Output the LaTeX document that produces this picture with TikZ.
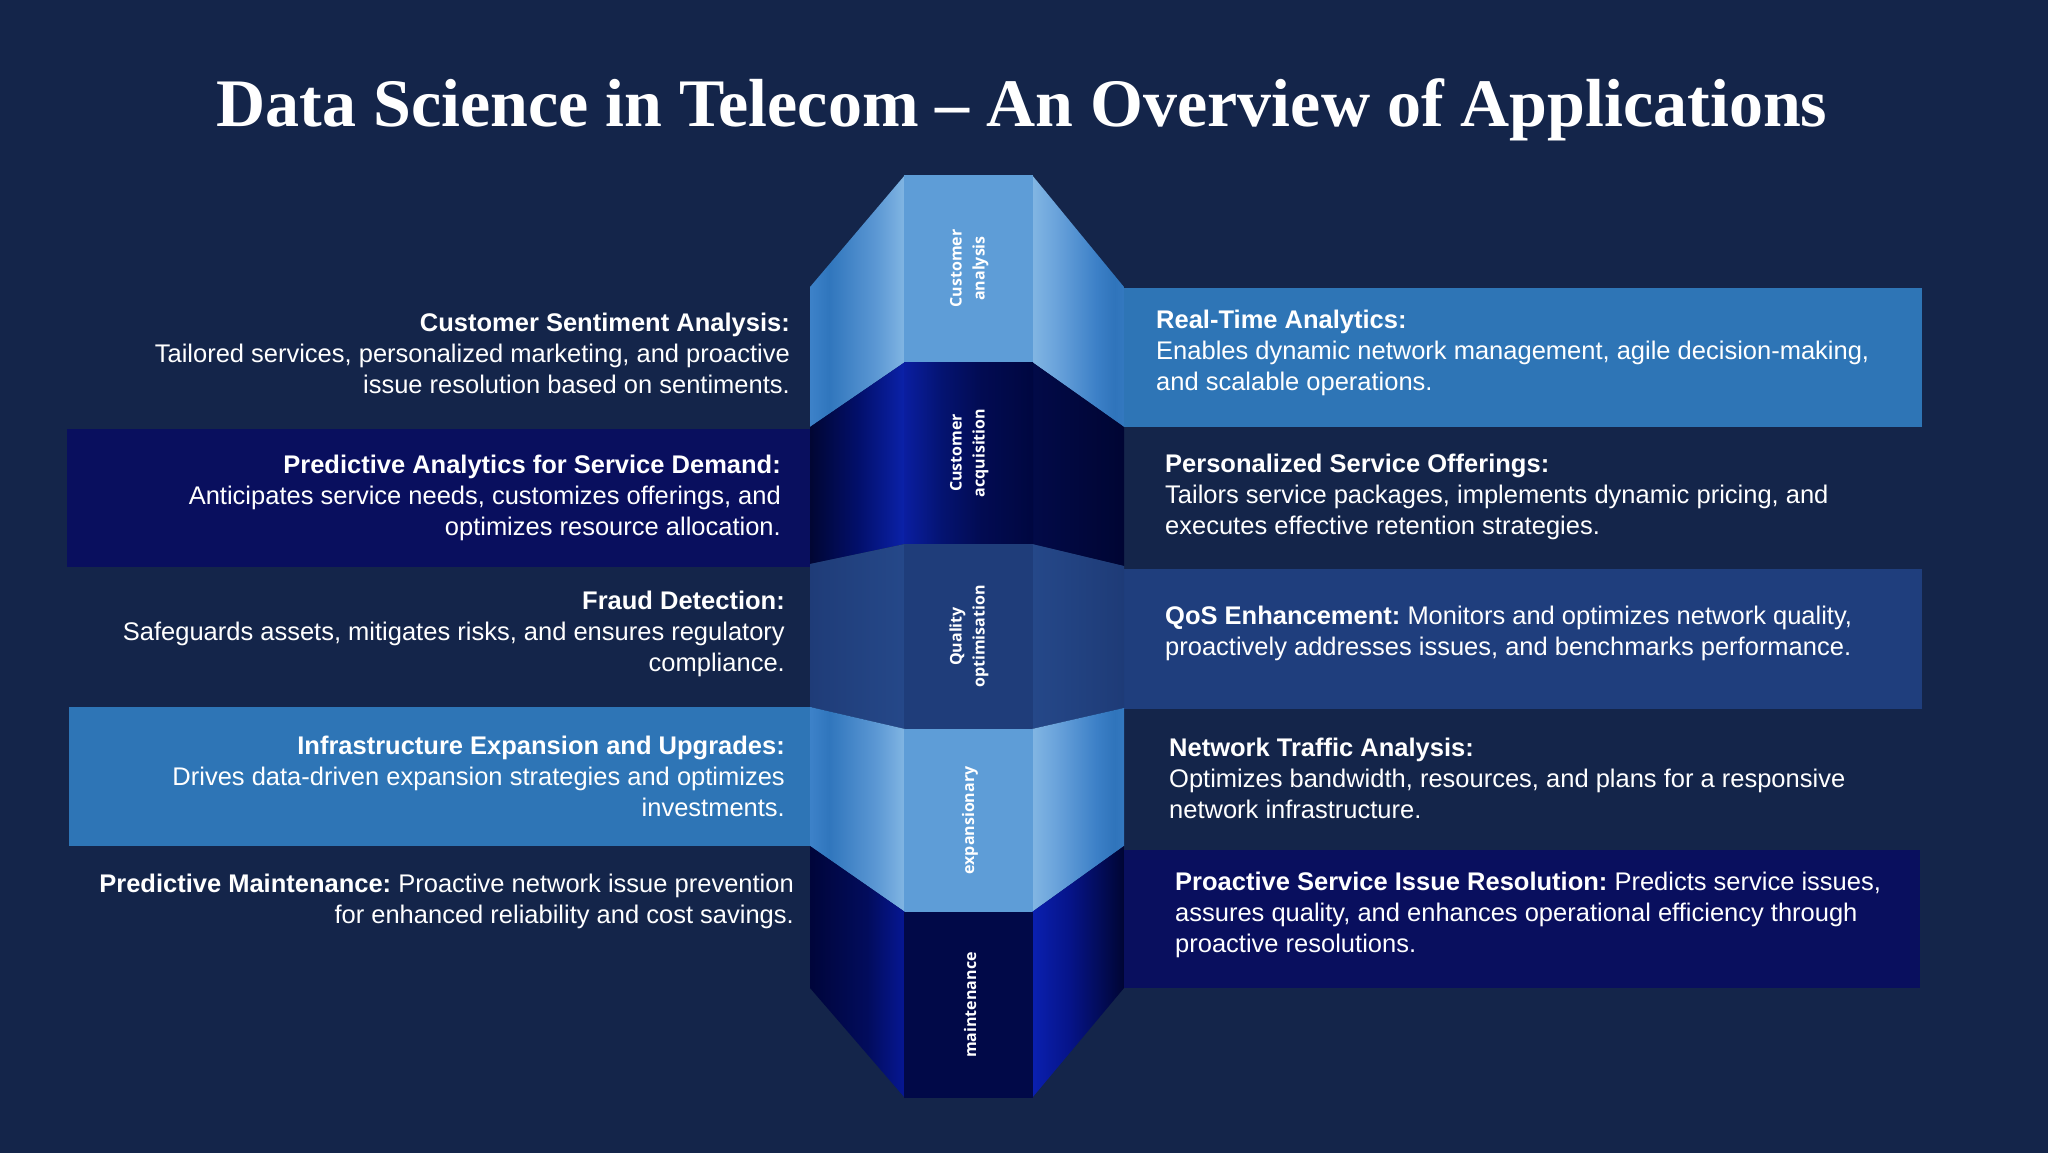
\documentclass[tikz,border=0pt]{standalone}
\usepackage{fontspec}
\setmainfont{Liberation Sans}
\newfontfamily\titlefont{Liberation Serif}
\newfontfamily\labelfont{Open Sans}
\frenchspacing
\definecolor{bgc}{HTML}{14254A}
\definecolor{bandlight}{HTML}{2E75B6}
\definecolor{banddark}{HTML}{090F5E}
\definecolor{bandmid}{HTML}{1F3E7D}
\definecolor{facelight}{HTML}{5E9DD7}
\definecolor{facedark}{HTML}{010948}
\definecolor{facemid}{HTML}{1F3D7A}
% shading stop colours
\definecolor{lA}{HTML}{3D82C9}
\definecolor{lB}{HTML}{3076BD}
\definecolor{lC}{HTML}{5C98D4}
\definecolor{lD}{HTML}{82B6E3}
\definecolor{lE}{HTML}{6AA3DB}
\definecolor{lF}{HTML}{3C80C7}
\definecolor{lG}{HTML}{2F74BB}
\definecolor{lH}{HTML}{3479C0}
\definecolor{dA}{HTML}{010633}
\definecolor{dB}{HTML}{020F6A}
\definecolor{dC}{HTML}{0B22AA}
\definecolor{dD}{HTML}{0A1EA0}
\definecolor{dE}{HTML}{041370}
\definecolor{dF}{HTML}{020B52}
\definecolor{dG}{HTML}{000740}
\definecolor{dH}{HTML}{020A48}
\definecolor{dI}{HTML}{000533}
\definecolor{dJ}{HTML}{00053A}
\definecolor{dK}{HTML}{020C5C}
\definecolor{dL}{HTML}{061794}
\definecolor{dM}{HTML}{0A20B0}
\definecolor{dN}{HTML}{06148A}
\definecolor{mA}{HTML}{1F3C78}
\definecolor{mB}{HTML}{254889}
\definecolor{mC}{HTML}{1E3B77}
\pgfdeclarehorizontalshading{lightL}{100bp}{color(0bp)=(lA); color(25bp)=(lA); color(35bp)=(lB); color(60bp)=(lC); color(75bp)=(lD); color(100bp)=(lD)}
\pgfdeclarehorizontalshading{lightR}{100bp}{color(0bp)=(lD); color(25bp)=(lD); color(38bp)=(lE); color(60bp)=(lF); color(70bp)=(lG); color(75bp)=(lH); color(100bp)=(lH)}
\pgfdeclarehorizontalshading{darkLa}{100bp}{color(0bp)=(dA); color(25bp)=(dA); color(50bp)=(dB); color(75bp)=(dC); color(100bp)=(dC)}
\pgfdeclarehorizontalshading{darkFa}{100bp}{color(0bp)=(dD); color(25bp)=(dD); color(40bp)=(dE); color(55bp)=(dF); color(75bp)=(dG); color(100bp)=(dG)}
\pgfdeclarehorizontalshading{darkRa}{100bp}{color(0bp)=(dH); color(25bp)=(dH); color(75bp)=(dI); color(100bp)=(dI)}
\pgfdeclarehorizontalshading{darkLb}{100bp}{color(0bp)=(dJ); color(25bp)=(dJ); color(55bp)=(dK); color(75bp)=(dL); color(100bp)=(dL)}
\pgfdeclarehorizontalshading{darkRb}{100bp}{color(0bp)=(dM); color(25bp)=(dM); color(45bp)=(dN); color(75bp)=(dI); color(100bp)=(dI)}
\pgfdeclarehorizontalshading{midL}{100bp}{color(0bp)=(mA); color(25bp)=(mA); color(75bp)=(mB); color(100bp)=(mB)}
\pgfdeclarehorizontalshading{midR}{100bp}{color(0bp)=(mB); color(25bp)=(mB); color(75bp)=(mC); color(100bp)=(mC)}
\newcommand\txtsize{\fontsize{25.5}{31}\selectfont}
\tikzset{
  lefttxt/.style={anchor=base east, inner sep=0pt, text=white, font=\txtsize},
  righttxt/.style={anchor=base west, inner sep=0pt, text=white, font=\txtsize},
  collabel/.style={rotate=90, inner sep=0pt, text=white, font=\labelfont\bfseries\fontsize{16}{23}\selectfont}
}
\begin{document}
\begin{tikzpicture}[x=1pt,y=-1pt]
\useasboundingbox (0,0) rectangle (2048,1152);
\fill[bgc] (-6,-6) rectangle (2054,1158);
% bands
\fill[bandlight] (1122,288) rectangle (1922,427);
\fill[banddark] (67,429) rectangle (812,567);
\fill[bandmid] (1122,569) rectangle (1922,709);
\fill[bandlight] (69,707) rectangle (812,846);
\fill[banddark] (1122,850) rectangle (1920,988);
% column segment 1
\shade[shading=lightL] (810,287) -- (905,175) -- (905,362) -- (810,427) -- cycle;
\shade[shading=lightR] (1032,175) -- (1124,287) -- (1124,427) -- (1032,362) -- cycle;
\fill[facelight] (904,175) rectangle (1033,362);
% segment 2
\shade[shading=darkLa] (810,427) -- (905,362) -- (905,544) -- (810,564) -- cycle;
\shade[shading=darkRa] (1032,362) -- (1124,427) -- (1124,566) -- (1032,544) -- cycle;
\shade[shading=darkFa] (904,362) rectangle (1033,544);
% segment 3
\shade[shading=midL] (810,564) -- (905,544) -- (905,729) -- (810,707) -- cycle;
\shade[shading=midR] (1032,544) -- (1124,566) -- (1124,708) -- (1032,729) -- cycle;
\fill[facemid] (904,544) rectangle (1033,729);
% segment 4
\shade[shading=lightL] (810,707) -- (905,729) -- (905,912) -- (810,846) -- cycle;
\shade[shading=lightR] (1032,729) -- (1124,708) -- (1124,846) -- (1032,912) -- cycle;
\fill[facelight] (904,729) rectangle (1033,912);
% segment 5
\shade[shading=darkLb] (810,846) -- (905,912) -- (905,1098) -- (810,988) -- cycle;
\shade[shading=darkRb] (1032,912) -- (1124,846) -- (1124,988) -- (1032,1098) -- cycle;
\fill[facedark] (904,912) rectangle (1033,1098);
% column labels
\node[collabel] (c1) at (968.5,268.5) {\begin{tabular}{@{}c@{}}Customer\\ analysis\end{tabular}};
\node[collabel] (c2) at (968.5,453) {\begin{tabular}{@{}c@{}}Customer\\ acquisition\end{tabular}};
\node[collabel] (c3) at (968.5,636.5) {\begin{tabular}{@{}c@{}}Quality\\ optimisation\end{tabular}};
\node[collabel] (c4) at (970,820.5) {expansionary};
\node[collabel] (c5) at (970,1005) {maintenance};
% title
\node[anchor=base, inner sep=0pt, text=white, font=\titlefont\bfseries\fontsize{68}{80}\selectfont] (title) at (1022,126) {Data Science in Telecom – An Overview of Applications};
% left texts
\node[lefttxt] (l1) at (790,331) {\begin{tabular}[t]{@{}r@{}}\textbf{Customer Sentiment Analysis:}\\ Tailored services, personalized marketing, and proactive\\ issue resolution based on sentiments.\end{tabular}};
\node[lefttxt] (l2) at (781,473) {\begin{tabular}[t]{@{}r@{}}\textbf{Predictive Analytics for Service Demand:}\\ Anticipates service needs, customizes offerings, and\\ optimizes resource allocation.\end{tabular}};
\node[lefttxt] (l3) at (785,609) {\begin{tabular}[t]{@{}r@{}}\textbf{Fraud Detection:}\\ Safeguards assets, mitigates risks, and ensures regulatory\\ compliance.\end{tabular}};
\node[lefttxt] (l4) at (785,754) {\begin{tabular}[t]{@{}r@{}}\textbf{Infrastructure Expansion and Upgrades:}\\ Drives data-driven expansion strategies and optimizes\\ investments.\end{tabular}};
\node[lefttxt] (l5) at (794,892) {\begin{tabular}[t]{@{}r@{}}\textbf{Predictive Maintenance:} Proactive network issue prevention\\ for enhanced reliability and cost savings.\end{tabular}};
% right texts
\node[righttxt] (r1) at (1156,328) {\begin{tabular}[t]{@{}l@{}}\textbf{Real-Time Analytics:}\\ Enables dynamic network management, agile decision-making,\\ and scalable operations.\end{tabular}};
\node[righttxt] (r2) at (1165,472) {\begin{tabular}[t]{@{}l@{}}\textbf{Personalized Service Offerings:}\\ Tailors service packages, implements dynamic pricing, and\\ executes effective retention strategies.\end{tabular}};
\node[righttxt] (r3) at (1165,624) {\begin{tabular}[t]{@{}l@{}}\textbf{QoS Enhancement:} Monitors and optimizes network quality,\\ proactively addresses issues, and benchmarks performance.\end{tabular}};
\node[righttxt] (r4) at (1169,756) {\begin{tabular}[t]{@{}l@{}}\textbf{Network Traffic Analysis:}\\ Optimizes bandwidth, resources, and plans for a responsive\\ network infrastructure.\end{tabular}};
\node[righttxt] (r5) at (1175,890) {\begin{tabular}[t]{@{}l@{}}\textbf{Proactive Service Issue Resolution:} Predicts service issues,\\ assures quality, and enhances operational efficiency through\\ proactive resolutions.\end{tabular}};
\end{tikzpicture}
\end{document}
